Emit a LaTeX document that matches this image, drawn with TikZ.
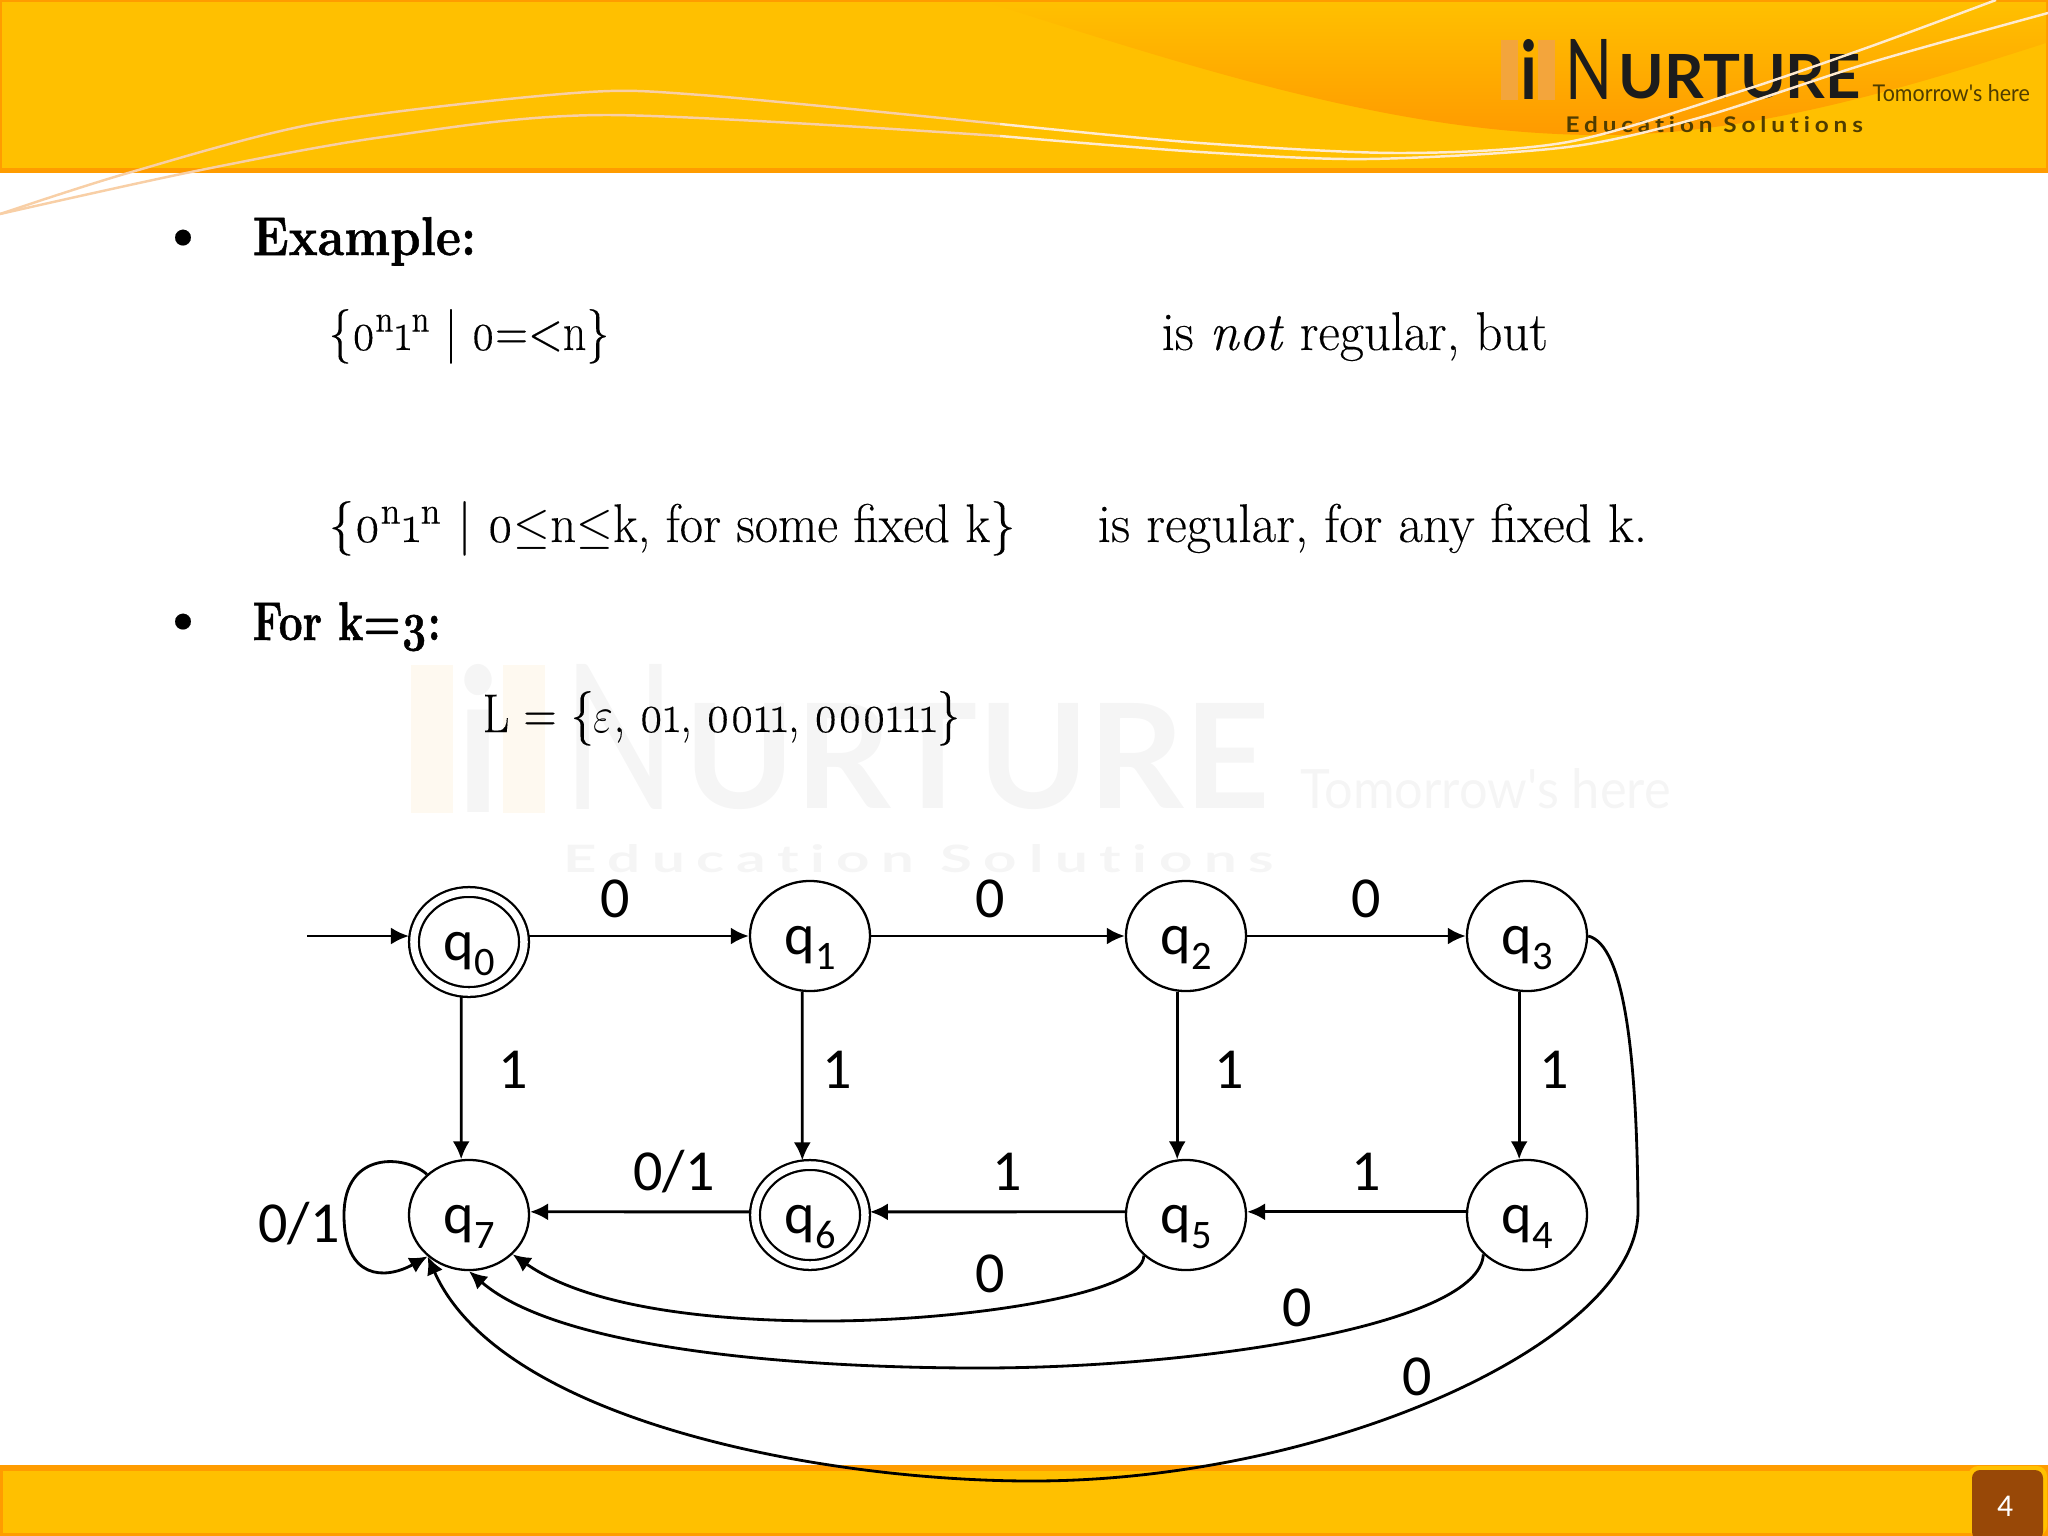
\documentclass[tikz,border=0pt]{standalone}
\usepackage{fontspec}
\usepackage{xcolor}
\setmainfont{Latin Modern Roman}[Numbers=OldStyle, UprightFeatures={FakeBold=.2}, ItalicFeatures={FakeBold=.2}, BoldFeatures={FakeBold=1}]
\newfontfamily\diagfont{Carlito}
\newfontfamily\logofont{Lato}[Ligatures=NoCommon]
\usetikzlibrary{shapes.geometric, arrows.meta, positioning}

\definecolor{bandyellow}{HTML}{FFC000}
\definecolor{bandorange}{HTML}{FF9C00}
\definecolor{swooshorange}{HTML}{FF9A00}
\definecolor{pagebrown}{HTML}{984807}
\definecolor{stripeorange}{HTML}{F3A53C}
\definecolor{logoink}{HTML}{1C1C1C}
\definecolor{logotag}{HTML}{4F3C00}
\definecolor{markgrey}{HTML}{F5F5F5}
\definecolor{markstripe}{HTML}{FEF9F0}
\definecolor{linepeach}{HTML}{F8CFA6}
\definecolor{linepale}{HTML}{FFEBD0}

\tikzset{
	state/.style={draw, ellipse, line width=.65pt, minimum width=1.2cm, minimum height=1.1cm, inner sep=0pt,
		font=\diagfont\fontsize{16.5}{20}\selectfont, text height=.36cm, text depth=0pt},
	accept/.style={state, double, double distance=.075cm, minimum width=1.1cm, minimum height=1cm, outer sep=.05cm},
	trans/.style={-{Latex[length=.18cm,width=.17cm]}, line width=.8pt},
	lab/.style={inner sep=0pt, font=\diagfont\fontsize{16.5}{20}\selectfont},
	slidetext/.style={anchor=base west, inner sep=0pt, font=\fontsize{15.5}{18}\selectfont},
	slidebold/.style={slidetext, font=\fontsize{15.5}{18}\selectfont\bfseries},
	bandline/.style={line width=.7pt},
	dotnode/.style={inner sep=0pt, font=\fontsize{20}{20}\selectfont},
}
\newcommand{\qname}[1]{q\raisebox{-.15cm}{\fontsize{11.5}{12}\selectfont #1}}
\newcommand{\squeezed}[2]{\scalebox{#1}[1]{#2}}
\newcommand{\logotext}[7]{\node[anchor=south west, inner sep=0pt, text=#6] (#1) at (#2,#3)
	{\resizebox{#4cm}{#5cm}{\logofont #7}};}

\begin{document}
\begin{tikzpicture}[x=0.01cm, y=-0.01cm]
	\useasboundingbox (0,0) rectangle (2048,1536);
	
	% Header and footer bands
	\fill[bandorange] (0,0) rectangle (2048,173);
	\fill[bandyellow] (2,2) rectangle (2046,168);
	\shade[top color=bandyellow, bottom color=swooshorange] (986,2) .. controls (1200,70) and (1400,135) .. (1601,135)
		.. controls (1750,135) and (1900,90) .. (2046,43) -- (2046,2) -- cycle;
	\fill[bandorange] (0,1465) rectangle (2048,1536);
	\fill[bandyellow] (3,1471) rectangle (1975,1533);
	\fill[bandyellow, rounded corners=.1cm] (1968,1536) -- (1968,1466) -- (2047,1466) -- (2047,1536) -- cycle;
	\fill[pagebrown, rounded corners=.08cm] (1972,1540) -- (1972,1470) -- (2043,1470) -- (2043,1540) -- cycle;
	\node[inner sep=0pt, text=white, font=\diagfont\fontsize{9}{10}\selectfont] (pagenum) at (2005,1506) {4};
	
	% Logo in the header
	\fill[stripeorange] (1501,40) rectangle (1518,100);
	\fill[stripeorange] (1538,40) rectangle (1555,100);
	\logotext{logoi}{1520}{100}{.17}{.6}{logoink}{\bfseries i}
	\logotext{logon}{1565}{100}{.47}{.6}{logoink}{N}
	\logotext{logourture}{1618}{100}{2.42}{.44}{logoink}{\bfseries URTURE}
	\logotext{logotag}{1872}{102}{1.57}{.17}{logotag}{Tomorrow's here}
	\logotext{logoedu}{1565}{133}{2.97}{.16}{logotag}{\bfseries\addfontfeature{LetterSpace=20}Education Solutions}
	
	% Faint copy of the logo behind the text
	\fill[markstripe] (411,665) rectangle (453,813);
	\fill[markstripe] (503,665) rectangle (545,813);
	\logotext{marki}{456}{813}{.44}{1.48}{markgrey}{\bfseries i}
	\logotext{markn}{563}{810}{1.12}{1.45}{markgrey}{N}
	\logotext{markurture}{684}{810}{5.85}{1.05}{markgrey}{\bfseries URTURE}
	\logotext{marktag}{1300}{810}{3.7}{.4}{markgrey}{Tomorrow's here}
	\logotext{markedu}{563}{873}{7.1}{.28}{markgrey}{\bfseries\addfontfeature{LetterSpace=20}Education Solutions}
	
	% Thin lines across the header
	\draw[bandline, linepeach] plot[smooth] coordinates {(0,214) (128,173) (319,123) (574,93) (701,95) (1000,124)};
	\draw[bandline, linepeach] plot[smooth] coordinates {(0,214) (191,172) (383,137) (606,115) (1000,136)};
	\draw[bandline, linepale] plot[smooth] coordinates {(1000,124) (1200,143) (1401,153) (1568,142) (1735,93) (1869,47) (1996,0)};
	\draw[bandline, linepale] plot[smooth] coordinates {(1000,136) (1200,152) (1368,159) (1568,147) (1702,117) (1869,63) (2048,13)};
	
	% Slide text
	\node[dotnode] (bullet1) at (183,243) {\textbullet};
	\node[slidebold] (example) at (252,255) {\squeezed{.895}{Example:}};
	\node[slidetext] (lang1) at (328,350) {\squeezed{.84}{\{0\textsuperscript{n}1\textsuperscript{n} | 0=<n\}}};
	\node[slidetext] (note1) at (1161,350) {\squeezed{.964}{is \textit{not} regular, but}};
	\node[slidetext] (lang2) at (328,542) {\squeezed{.933}{\{0\textsuperscript{n}1\textsuperscript{n} | 0$\leq$n$\leq$k, for some fixed k\}}};
	\node[slidetext] (note2) at (1097,542) {\squeezed{.977}{is regular, for any fixed k.}};
	\node[dotnode] (bullet2) at (183,627) {\textbullet};
	\node[slidebold] (fork) at (252,640) {\squeezed{.78}{For k=3:}};
	\node[slidetext] (langl) at (482,732) {\squeezed{.85}{L = \{$\varepsilon$, 01, 0011, 000111\}}};
	
	% States
	\node[accept] (q0) at (469,942) {\qname{0}};
	\node[state] (q1) at (810,936) {\qname{1}};
	\node[state] (q2) at (1186,936) {\qname{2}};
	\node[state] (q3) at (1527,936) {\qname{3}};
	\node[state] (q4) at (1527,1215) {\qname{4}};
	\node[state] (q5) at (1186,1215) {\qname{5}};
	\node[accept] (q6) at (810,1215) {\qname{6}};
	\node[state] (q7) at (469,1215) {\qname{7}};
	\coordinate (start) at (307,936);
	
	% Transitions
	\path[trans] (start) edge (q0.west |- start);
	\path[trans] (q0.east |- q1.west) edge (q1.west);
	\path[trans] (q1.east) edge (q2.west);
	\path[trans] (q2.east) edge (q3.west);
	\path[trans] (q0.262) edge (q7.98);
	\path[trans] (q1.262) edge (q6.98);
	\path[trans] (q2.261) edge (q5.99);
	\path[trans] (q3.262) edge (q4.98);
	\path[trans] (q4.177) edge (q5.3);
	\path[trans] (q5.177) edge (q6.3);
	\path[trans] (q6.177) edge (q7.3);
	\draw[trans] (q7.136) .. controls (406,1155) and (344,1150) .. (344,1215)
		.. controls (344,1280) and (385,1280) .. (q7.225);
	\draw[trans] (q5.224) .. controls (1143,1295) and (960,1321) .. (825,1321)
		.. controls (700,1321) and (585,1305) .. (q7.-42);
	\draw[trans] (q4.222) .. controls (1480,1325) and (1200,1368) .. (980,1368)
		.. controls (800,1368) and (560,1350) .. (q7.south);
	\draw[trans] (q3.east) .. controls (1625,945) and (1637,1060) .. (1638,1210)
		.. controls (1640,1340) and (1330,1481) .. (1032,1481)
		.. controls (820,1481) and (500,1420) .. (q7.225);
	
	% Labels
	\node[lab] (l01) at (615,899) {0};
	\node[lab] (l12) at (990,899) {0};
	\node[lab] (l23) at (1366,899) {0};
	\node[lab] (l07) at (513,1070) {1};
	\node[lab] (l16) at (837,1070) {1};
	\node[lab] (l25) at (1229,1070) {1};
	\node[lab] (l34) at (1554,1070) {1};
	\node[lab] (l45) at (1366,1172) {1};
	\node[lab] (l56) at (1007,1172) {1};
	\node[lab] (l67) at (674,1172) {0/1};
	\node[lab] (l77) at (299,1224) {0/1};
	\node[lab] (l57) at (990,1274) {0};
	\node[lab] (l47) at (1297,1308) {0};
	\node[lab] (l37) at (1417,1377) {0};
\end{tikzpicture}
\end{document}
